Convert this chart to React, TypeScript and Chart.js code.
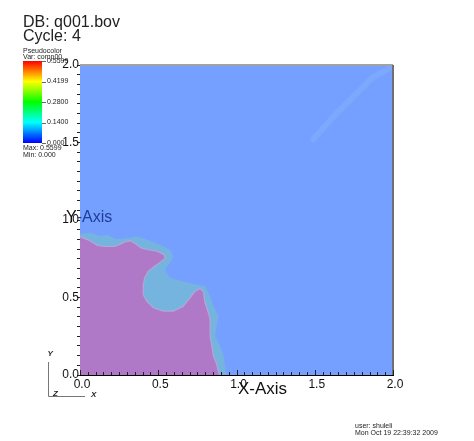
import React, { useEffect, useRef } from 'react';
import { Chart, registerables } from 'chart.js';

Chart.register(...registerables);

// ---- data ----
const axisTickLabels = ['0.0', '0.5', '1.0', '1.5', '2.0'];
const domainX = [0, 2, 2, 0];
const domainY = [0, 0, 2, 2];
// interface of the high-value (purple) region, from the left wall to the bottom wall
const interfaceX = [0, 0.051, 0.083, 0.115, 0.158, 0.222, 0.262, 0.294, 0.326, 0.358, 0.39, 0.435, 0.498, 0.537, 0.545, 0.519, 0.477, 0.435, 0.413, 0.404, 0.404, 0.426, 0.468, 0.532, 0.596, 0.66, 0.703, 0.735, 0.767, 0.788, 0.799, 0.82, 0.831, 0.831, 0.842, 0.852, 0.873, 0.89];
const interfaceY = [0.893, 0.872, 0.853, 0.835, 0.829, 0.829, 0.846, 0.861, 0.865, 0.844, 0.819, 0.808, 0.797, 0.776, 0.754, 0.733, 0.701, 0.669, 0.626, 0.583, 0.519, 0.476, 0.434, 0.412, 0.412, 0.444, 0.498, 0.54, 0.556, 0.54, 0.466, 0.402, 0.359, 0.252, 0.188, 0.124, 0.071, 0];
// outer edge of the mixing layer
const mixingX = [0, 0.064, 0.128, 0.171, 0.235, 0.298, 0.362, 0.426, 0.511, 0.575, 0.596, 0.575, 0.55, 0.543, 0.575, 0.658, 0.746, 0.799, 0.831, 0.852, 0.884, 0.873, 0.863, 0.895, 0.916, 0.927, 0.933];
const mixingY = [0.91, 0.917, 0.897, 0.904, 0.876, 0.883, 0.893, 0.872, 0.84, 0.808, 0.765, 0.722, 0.692, 0.673, 0.628, 0.604, 0.583, 0.572, 0.508, 0.444, 0.38, 0.316, 0.252, 0.188, 0.124, 0.06, 0];
// faint streak near the upper-right corner
const streakX = [1.49, 1.64, 1.77, 1.87, 1.99];
const streakY = [1.52, 1.69, 1.82, 1.92, 1.985];
const colorbarLabels = ['0.5599', '0.4199', '0.2800', '0.1400', '0.000'];
const titleLines = ['DB: q001.bov', 'Cycle: 4'];
const legendLines = ['Pseudocolor', 'Var: comp00'];
const rangeLines = ['Max: 0.5599', 'Min: 0.000'];
const footerLines = ['user: shuleli', 'Mon Oct 19 22:39:32 2009'];

const FONT = "'Liberation Sans', Arial, sans-serif";
const BLUE = 'rgb(118,160,255)';
const PURPLE = 'rgb(175,121,200)';
const MIX = 'rgb(118,180,224)';

const pts = (xs: number[], ys: number[]) => xs.map((x, i) => ({ x, y: ys[i] }));

const labelFor = (v: number) => {
  const k = Math.round(v * 2);
  return Math.abs(v * 2 - k) < 1e-6 ? axisTickLabels[k] ?? '' : '';
};

const decor = {
  id: 'decor',
  afterDraw(chart: any) {
    const { ctx, chartArea: a, scales } = chart;
    const xs = scales.x;
    ctx.save();
    // frame top / right
    ctx.lineWidth = 2;
    ctx.strokeStyle = '#a3a3a3';
    ctx.beginPath();
    ctx.moveTo(a.left, a.top);
    ctx.lineTo(a.right, a.top);
    ctx.stroke();
    ctx.strokeStyle = '#707070';
    ctx.beginPath();
    ctx.moveTo(a.right, a.top);
    ctx.lineTo(a.right, a.bottom);
    ctx.stroke();
    // inward x ticks
    ctx.lineWidth = 1;
    ctx.strokeStyle = '#222';
    ctx.beginPath();
    xs.ticks.forEach((t: any, i: number) => {
      const px = Math.round(xs.getPixelForTick(i)) + 0.5;
      const len = labelFor(t.value) ? 5 : 3;
      ctx.moveTo(px, a.bottom);
      ctx.lineTo(px, a.bottom - len);
    });
    ctx.stroke();

    // axis titles
    ctx.textBaseline = 'alphabetic';
    ctx.textAlign = 'left';
    ctx.font = `16px ${FONT}`;
    ctx.fillStyle = '#111';
    ctx.fillText('Y', a.left - 14, a.top + 157);
    const yw = ctx.measureText('Y').width;
    ctx.fillStyle = '#1d3d98';
    ctx.fillText('-Axis', a.left - 14 + yw, a.top + 157);
    ctx.fillStyle = '#111';
    ctx.font = `17px ${FONT}`;
    ctx.fillText('X-Axis', 238, a.bottom + 19);

    // title
    ctx.fillStyle = '#222';
    ctx.font = `16px ${FONT}`;
    ctx.fillText(titleLines[0], 23, 27);
    ctx.fillText(titleLines[1], 23, 40.5);

    // legend
    ctx.font = `7px ${FONT}`;
    ctx.fillText(legendLines[0], 23, 52.5);
    ctx.fillText(legendLines[1], 23, 58.5);
    const bx = 23, bt = 61, bw = 19, bh = 82;
    const g = ctx.createLinearGradient(0, bt, 0, bt + bh);
    g.addColorStop(0, 'rgb(255,0,0)');
    g.addColorStop(0.25, 'rgb(255,255,0)');
    g.addColorStop(0.5, 'rgb(0,255,0)');
    g.addColorStop(0.75, 'rgb(0,255,255)');
    g.addColorStop(1, 'rgb(0,0,255)');
    ctx.fillStyle = g;
    ctx.fillRect(bx, bt, bw, bh);
    ctx.strokeStyle = '#666';
    ctx.beginPath();
    colorbarLabels.forEach((_, i) => {
      const y = Math.round(bt + (bh * i) / (colorbarLabels.length - 1)) + 0.5;
      ctx.moveTo(bx + bw, y);
      ctx.lineTo(bx + bw + 4, y);
    });
    ctx.stroke();
    ctx.fillStyle = '#222';
    ctx.textBaseline = 'middle';
    colorbarLabels.forEach((s, i) => {
      const y = bt + (bh * i) / (colorbarLabels.length - 1);
      ctx.fillText(s, bx + bw + 5, y);
    });
    ctx.fillText(rangeLines[0], 23, 148);
    ctx.fillText(rangeLines[1], 23, 155);

    // footer
    ctx.textBaseline = 'alphabetic';
    ctx.fillText(footerLines[0], 355, 427.5);
    ctx.fillText(footerLines[1], 355, 434.5);

    // triad
    ctx.strokeStyle = '#777';
    ctx.beginPath();
    ctx.moveTo(48.5, 362);
    ctx.lineTo(48.5, 396.5);
    ctx.lineTo(85, 396.5);
    ctx.stroke();
    ctx.fillStyle = '#222';
    ctx.font = `italic bold 8px ${FONT}`;
    ctx.fillText('Y', 47.5, 356);
    ctx.fillText('Z', 53, 396);
    ctx.fillText('X', 91, 396.5);
    ctx.restore();
  },
};

export default function App() {
  const ref = useRef<HTMLCanvasElement | null>(null);
  useEffect(() => {
    document.body.style.margin = '0';
    const canvas = ref.current;
    if (!canvas) return;
    const hidden = 'rgba(0,0,0,0)';
    const chart = new Chart(canvas, {
      type: 'line',
      data: {
        datasets: [
          {
            label: 'interface',
            data: pts(interfaceX, interfaceY),
            borderColor: 'rgba(186,170,212,0.8)',
            borderWidth: 1.2,
            fill: false,
            pointRadius: 0,
          },
          {
            label: 'comp00 high',
            data: [...pts(interfaceX, interfaceY), { x: 0, y: 0 }],
            backgroundColor: PURPLE,
            borderColor: hidden,
            borderWidth: 0,
            fill: 'shape',
            pointRadius: 0,
          },
          {
            label: 'mixing',
            data: [...pts(mixingX, mixingY), { x: 0, y: 0 }],
            backgroundColor: MIX,
            borderColor: hidden,
            borderWidth: 0,
            fill: 'shape',
            pointRadius: 0,
          },
          {
            label: 'streak',
            data: pts(streakX, streakY),
            borderColor: 'rgba(132,178,250,0.45)',
            borderWidth: 6,
            borderCapStyle: 'round',
            fill: false,
            pointRadius: 0,
          },
          {
            label: 'field',
            data: pts(domainX, domainY),
            backgroundColor: BLUE,
            borderColor: hidden,
            borderWidth: 0,
            fill: 'shape',
            pointRadius: 0,
          },
        ] as any,
      },
      options: {
        animation: false,
        responsive: false,
        events: [],
        layout: { padding: { left: 60, right: 81, top: 65, bottom: 46 } },
        plugins: { legend: { display: false }, tooltip: { enabled: false }, title: { display: false } },
        scales: {
          x: {
            type: 'linear',
            min: 0,
            max: 2,
            afterFit: (s: any) => { s.height = 20; },
            ticks: {
              stepSize: 0.05,
              autoSkip: false,
              maxRotation: 0,
              padding: 2,
              labelOffset: 2,
              color: '#111',
              font: { family: FONT, size: 12 },
              callback: (v: any) => labelFor(Number(v)),
            },
            grid: { display: true, drawOnChartArea: false, drawTicks: false, color: '#222' },
            border: { display: true, color: '#000', width: 1 },
          },
          y: {
            type: 'linear',
            min: 0,
            max: 2,
            afterFit: (s: any) => { s.width = 20; },
            ticks: {
              stepSize: 0.0625,
              autoSkip: false,
              padding: -2,
              color: '#111',
              font: { family: FONT, size: 12 },
              callback: (v: any) => labelFor(Number(v)),
            },
            grid: { display: true, drawOnChartArea: false, drawTicks: true, tickLength: 3, color: '#222', tickColor: '#222' },
            border: { display: true, color: '#000', width: 1 },
          },
        },
      } as any,
      plugins: [decor],
    });
    return () => chart.destroy();
  }, []);
  return (
    <div style={{ position: 'absolute', left: 0, top: 0, width: 474, height: 441, background: '#fff' }}>
      <canvas ref={ref} width={474} height={441} style={{ display: 'block', width: 474, height: 441 }} />
    </div>
  );
}
